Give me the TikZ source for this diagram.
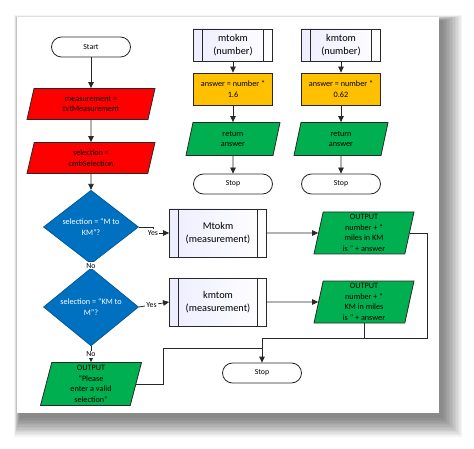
\documentclass[tikz,border=0pt]{standalone}
\usepackage{fontspec}
\setmainfont{Carlito}
\usetikzlibrary{positioning,arrows.meta,shapes.geometric,calc}
\definecolor{flowred}{RGB}{255,0,0}
\definecolor{flowblue}{RGB}{0,112,192}
\definecolor{flowgreen}{RGB}{0,176,80}
\definecolor{flowamber}{RGB}{255,192,0}
\definecolor{flowline}{RGB}{40,40,40}

\begin{document}
\begin{tikzpicture}[x=1pt,y=-1pt,line width=0.8pt,
  shapefont/.style={font=\fontsize{8.2}{10.5}\selectfont},
  terminal/.style={draw=flowline,fill=white,rounded corners=10pt,minimum width=79pt,
    minimum height=20pt,inner sep=0pt,font=\fontsize{7.8}{9}\selectfont},
  io/.style={trapezium,trapezium left angle=#1,trapezium right angle=180-#1,
    trapezium stretches body,draw=flowline,inner sep=0pt,align=center,shapefont},
  decision/.style={diamond,draw=flowblue!80!black,fill=flowblue,text=white,
    minimum width=95pt,minimum height=57pt,inner sep=0pt,align=center,shapefont},
  subproc/.style={rectangle,draw=flowline,left color=blue!7!white,right color=white,
    minimum width=#1,align=center,
    path picture={
      \draw[flowline] ([xshift=9pt]path picture bounding box.north west)
        -- ([xshift=9pt]path picture bounding box.south west);
      \draw[flowline] ([xshift=-9pt]path picture bounding box.north east)
        -- ([xshift=-9pt]path picture bounding box.south east);}},
  calcbox/.style={rectangle,draw=flowline,fill=flowamber,minimum width=79pt,
    minimum height=32pt,inner sep=0pt,align=center,shapefont},
  flow/.style={draw=flowline,-{Triangle[length=6pt,width=5.5pt]}},
  link/.style={draw=flowline},
  branch/.style={fill=white,inner sep=1pt,font=\fontsize{7.8}{9}\selectfont}]
\useasboundingbox (0,0) rectangle (474,449);
% Panel with soft shadow
\foreach \i in {1,...,14}
  \fill[black,opacity=0.045] (20-0.4*\i,21-0.4*\i) rectangle (441+1.5*\i,417+1.4*\i);
\fill[white] (17,17) rectangle (439,413);
% Main program
\node[terminal] (start) at (91,47) {Start};
\node[io=66,fill=flowred,minimum width=128pt,minimum height=31pt] (meas) at (91,104)
  {measurement =\\txtMeasurement};
\node[io=66,fill=flowred,minimum width=128pt,minimum height=31pt] (sel) at (91,158)
  {selection =\\cmbSelection};
\node[decision] (askmk) at (91,227) {selection = “M to\\KM”?};
\node[decision] (askkm) at (91,307) {selection = “KM to\\M”?};
\node[io=73,fill=flowgreen,minimum width=101pt,minimum height=43pt] (badout) at (91,384)
  {OUTPUT\\“Please\\enter a valid\\selection”};
\node[subproc=97pt,minimum height=48pt,font=\fontsize{10.3}{13.5}\selectfont] (mkcall) at (218,233)
  {Mtokm\\(measurement)};
\node[subproc=97pt,minimum height=48pt,font=\fontsize{10.3}{13.5}\selectfont] (kmcall) at (218,302)
  {kmtom\\(measurement)};
\node[io=76,fill=flowgreen,minimum width=100pt,minimum height=42pt] (mkout) at (364,233)
  {OUTPUT\\number + “\\miles in KM\\is ” + answer};
\node[io=76,fill=flowgreen,minimum width=100pt,minimum height=42pt] (kmout) at (364,302)
  {OUTPUT\\number + “\\KM in miles\\is ” + answer};
\node[terminal] (mainstop) at (262,373) {Stop};
\coordinate (join) at (262,338);
\coordinate (rightturn) at (427,338);
\coordinate (lowturn) at (163,348);
% Functions
\foreach \fn/\fx/\rate in {mtokm/233/1.6,kmtom/341/0.62}{
  \node[subproc=79pt,minimum height=32pt,font=\fontsize{10.3}{12.5}\selectfont] (\fn head) at (\fx,45)
    {\fn\\(number)};
  \node[calcbox] (\fn calc) at (\fx,89) {answer = number *\\\rate};
  \node[io=66,fill=flowgreen,minimum width=94pt,minimum height=33pt] (\fn ret) at (\fx,139)
    {return\\answer};
  \node[terminal] (\fn stop) at (\fx,184) {Stop};
  \draw[flow] (\fn head) -- (\fn calc);
  \draw[flow] (\fn calc) -- (\fn ret);
  \draw[flow] (\fn ret) -- (\fn stop);
}
% Connectors
\draw[flow] (start) -- (meas);
\draw[flow] (meas) -- (sel);
\draw[flow] (sel) -- (askmk);
\draw[flow] (askmk) -- node[branch] {No} (askkm);
\draw[flow] (askkm) -- node[branch] {No} (badout);
\draw[flow] (askmk.east) -- ++(14,0) |- node[branch] {Yes} (mkcall.west);
\draw[flow] (askkm.east) -- node[branch,pos=0.42] {Yes} (kmcall.west);
\draw[flow] (mkcall) -- (mkout);
\draw[flow] (kmcall) -- (kmout);
\draw[link] (mkout.east) -| (rightturn) -- (join);
\draw[link] (kmout.south) -- (kmout.south |- join);
\draw[link] (badout.east) -| (lowturn) -- (lowturn -| join);
\draw[flow] (join) -- (mainstop);
\end{tikzpicture}
\end{document}
